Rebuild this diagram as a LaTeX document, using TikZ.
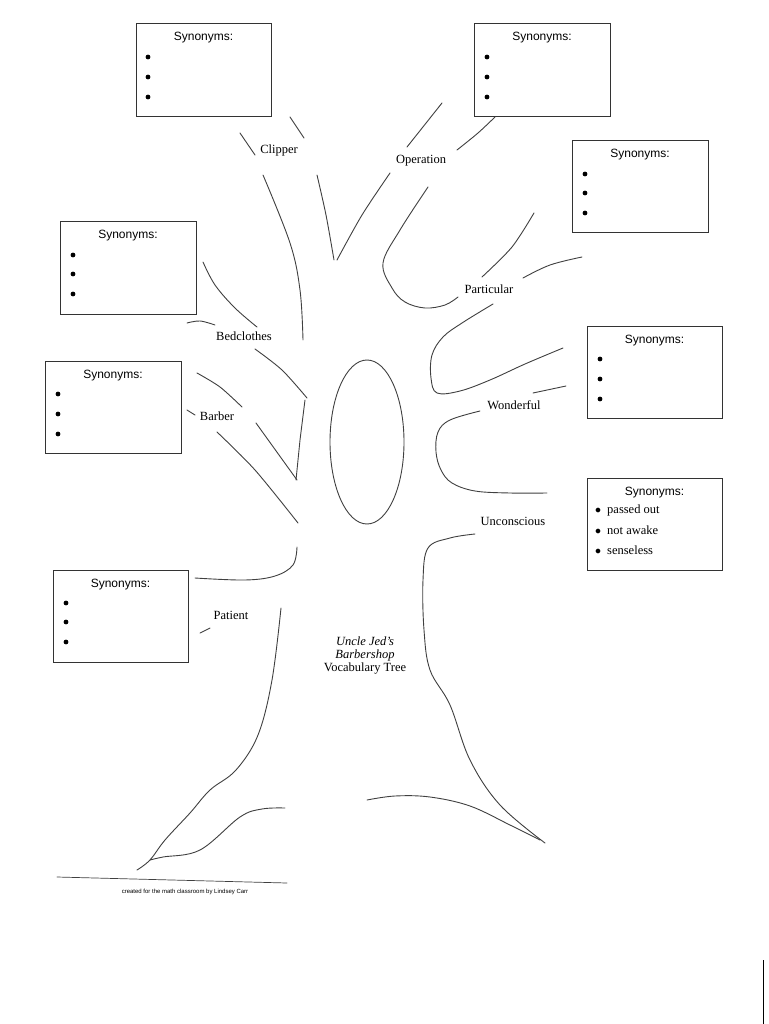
\documentclass[tikz,border=0pt]{standalone}
\usepackage{fontspec}
\setmainfont{Liberation Serif}
\newfontfamily\sansf{Liberation Sans}
\begin{document}
\begin{tikzpicture}[x=1pt,y=-1pt,
  br/.style={line width=0.9pt,color=black!75,line cap=round},
  box/.style={draw=black!80,line width=0.9pt},
  lab/.style={font=\fontsize{12.5}{14}\selectfont,inner sep=1pt},
  ttl/.style={font=\sansf\fontsize{12}{14}\selectfont,inner sep=0pt},
  bul/.style={font=\fontsize{12.5}{14}\selectfont,anchor=west,inner sep=0pt}]
\useasboundingbox[fill=white] (0,0) rectangle (768,1024);
% boxes
\foreach \n/\xa/\ya/\xb/\yb in {b1/136/23/271/116,b2/474/23/610/116,b3/572/140/708/232,b4/60/221/196/314,b5/45/361/181/453,b6/587/326/722/418,b7/587/478/722/570,b8/53/570/188/662}{
  \draw[box] (\xa,\ya) rectangle (\xb,\yb);
  \node[ttl] (\n t) at ({(\xa+\xb)/2},\ya+15) {Synonyms:};
}
\foreach \x/\y in {148/57,148/77,148/97,487/57,487/77,487/97,585/174,585/193,585/213,73/255,73/274,73/294,58/394,58/414,58/434,600/359,600/379,600/399,66/603,66/622,66/642}{
  \fill (\x,\y) circle (2.4pt);
}
\node[bul] (s1) at (595,510) {$\bullet$\hspace{6pt}passed out};
\node[bul] (s2) at (595,530) {$\bullet$\hspace{6pt}not awake};
\node[bul] (s3) at (595,550) {$\bullet$\hspace{6pt}senseless};
% labels
\node[lab] (clip) at (279,150) {Clipper};
\node[lab] (oper) at (421,161) {Operation};
\node[lab] (part) at (489,289) {Particular};
\node[lab] (bed) at (244,336) {Bedclothes};
\node[lab] (barb) at (217,416) {Barber};
\node[lab] (wond) at (514,405) {Wonderful};
\node[lab] (unco) at (513,521) {Unconscious};
\node[lab] (pat) at (231,615) {Patient};
\node[lab,align=center] (title) at (365,656) {\textit{Uncle Jed's}\\[-1pt]\textit{Barbershop}\\[-1pt]Vocabulary Tree};
% ellipse
\draw[br] (367,442) ellipse [x radius=37,y radius=82];
% branches
\draw[br] (240,133) -- (255,155);
\draw[br] (290,117) -- (304,138);
\draw[br] plot[smooth,tension=0.6] coordinates {(263,175) (290,243) (300,290) (303,340)};
\draw[br] plot[smooth,tension=0.5] coordinates {(317,175) (326,215) (334,260)};
\draw[br] plot[smooth,tension=0.5] coordinates {(337,260) (362,215) (390,173)};
\draw[br] (407,147) -- (442,103);
\draw[br] plot[smooth,tension=0.5] coordinates {(457,150) (478,133) (495,117)};
\draw[br] plot[smooth,tension=0.6] coordinates {(428,187) (400,230) (383,263) (392,288) (405,302) (425,308) (445,305) (458,297)};
\draw[br] plot[smooth,tension=0.5] coordinates {(482,277) (512,247) (534,213)};
\draw[br] plot[smooth,tension=0.6] coordinates {(523,278) (550,265) (582,257)};
\draw[br] plot[smooth,tension=0.6] coordinates {(493,304) (462,323) (443,337) (432,355) (431,378) (437,393) (460,391) (490,380) (525,364) (563,348)};
\draw[br] (533,393) -- (566,386);
\draw[br] plot[smooth,tension=0.6] coordinates {(480,411) (450,420) (438,432) (436,452) (441,470) (452,483) (475,491) (510,493) (547,493)};
\draw[br] plot[smooth,tension=0.6] coordinates {(475,534) (450,538) (428,548) (423,580) (424,630) (430,670) (450,705) (470,760) (500,805) (545,843)};
\draw[br] plot[smooth,tension=0.6] coordinates {(367,800) (395,796) (430,797) (470,806) (510,825) (540,840)};
\draw[br] plot[smooth,tension=0.6] coordinates {(203,262) (215,285) (235,308) (257,327)};
\draw[br] plot[smooth,tension=0.6] coordinates {(187,323) (200,321) (215,325)};
\draw[br] plot[smooth,tension=0.5] coordinates {(255,349) (282,370) (307,398)};
\draw[br] (305,400) -- (300,440) -- (296,480);
\draw[br] plot[smooth,tension=0.5] coordinates {(197,373) (220,387) (242,407)};
\draw[br] (187,410) -- (195,415);
\draw[br] (256,423) -- (297,480);
\draw[br] plot[smooth,tension=0.5] coordinates {(217,432) (255,470) (298,523)};
\draw[br] plot[smooth,tension=0.6] coordinates {(297,547) (293,565) (275,576) (245,580) (195,578)};
\draw[br] (200,633) -- (210,628);
\draw[br] plot[smooth,tension=0.6] coordinates {(281,608) (272,680) (258,735) (236,770) (210,790) (190,813) (165,840) (150,860) (137,870)};
\draw[br] plot[smooth,tension=0.6] coordinates {(150,860) (163,857) (200,850) (240,817) (262,809) (285,808)};
% ground and credit
\draw[br,line width=0.7pt] (57,877) -- (287,883);
\node[font=\sansf\fontsize{6}{7}\selectfont,inner sep=0pt] (cred) at (185,892) {created for the math classroom by Lindsey Carr};
\draw[line width=1pt] (763,960) -- (763,1024);
\end{tikzpicture}
\end{document}
